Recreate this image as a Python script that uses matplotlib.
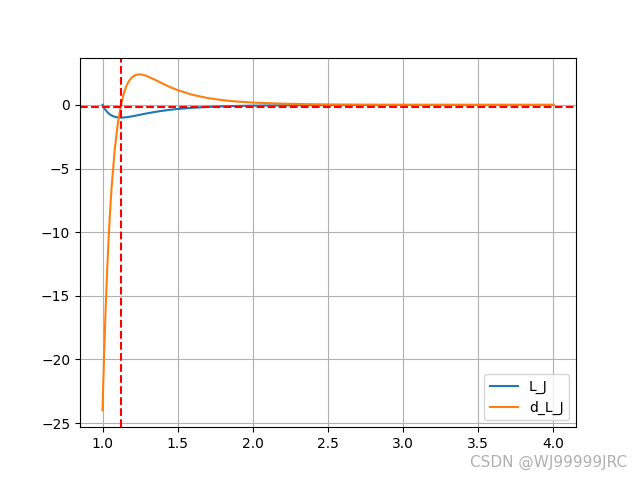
import matplotlib
matplotlib.use('Agg')
import matplotlib.pyplot as plt

# values (x = r)
r = [1.00, 1.005, 1.01, 1.02, 1.03, 1.04, 1.05, 1.06, 1.08, 1.10, 1.12, 1.14,
     1.16, 1.18, 1.20, 1.22, 1.24, 1.26, 1.28, 1.30, 1.35, 1.40, 1.45, 1.50,
     1.6, 1.7, 1.8, 1.9, 2.0, 2.2, 2.4, 2.6, 2.8, 3.0, 3.5, 4.0]
L_J = [0.0, -0.1145, -0.2184, -0.3979, -0.5444, -0.6629, -0.7575, -0.8320,
       -0.9322, -0.9834, -0.9998, -0.9921, -0.9679, -0.9328, -0.8910, -0.8452,
       -0.7977, -0.7498, -0.7027, -0.6570, -0.5516, -0.4607, -0.3841, -0.3203,
       -0.2242, -0.1589, -0.1141, -0.0832, -0.0615, -0.0350, -0.0208, -0.0129,
       -0.0083, -0.0055, -0.0022, -0.0010]
d_L_J = [-24.0, -21.81, -19.79, -16.21, -13.17, -10.59, -8.40, -6.54, -3.65,
         -1.59, -0.14, 0.852, 1.521, 1.952, 2.212, 2.347, 2.395, 2.381, 2.324,
         2.240, 1.967, 1.672, 1.398, 1.158, 0.7875, 0.5364, 0.3690, 0.2571,
         0.1816, 0.0945, 0.0518, 0.0297, 0.0177, 0.0109, 0.0037, 0.0015]

r_min = 1.1225
y_line = -0.15

fig = plt.figure(figsize=(6.4, 4.8), dpi=100)
plt.plot(r, L_J, label='L_J')
plt.plot(r, d_L_J, label='d_L_J')
plt.axvline(r_min, color='r', linestyle='--')
plt.axhline(y_line, color='r', linestyle='--')
plt.legend(loc='lower right')
plt.grid()
fig.text(0.734, 0.028, 'CSDN @WJ99999JRC', color='#b0b0b0', fontsize=11)

plt.savefig('out.png')
